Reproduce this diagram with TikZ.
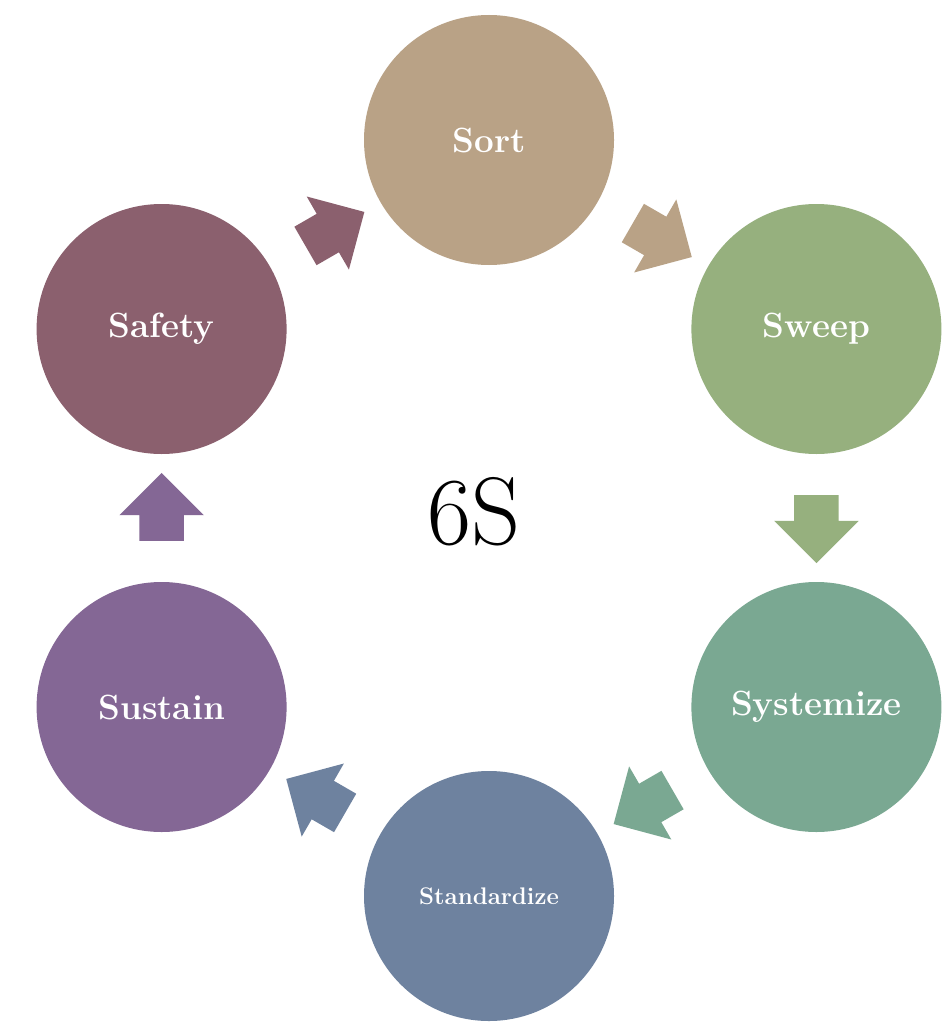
\documentclass[tikz,border=0pt]{standalone}
\usetikzlibrary{shapes.arrows,calc}
\definecolor{cA}{HTML}{B9A286}
\definecolor{cB}{HTML}{96B07E}
\definecolor{cC}{HTML}{7AA892}
\definecolor{cD}{HTML}{6E829F}
\definecolor{cE}{HTML}{846795}
\definecolor{cF}{HTML}{8B606E}
\begin{document}
\begin{tikzpicture}[x=1pt,y=-1pt,
  mod/.style={circle,minimum size=250pt,inner sep=0pt,text=white,font=\fontsize{35}{40}\selectfont\bfseries},
  arr/.style={single arrow,minimum height=68pt,minimum width=84pt,single arrow head extend=20pt,inner xsep=0pt,inner ysep=22pt,single arrow head indent=0pt}]
\useasboundingbox[fill=white] (0,0) rectangle (949,1027);
\coordinate (c) at (489,518);
\node[mod,fill=cA] (s1) at ($(c)+(0,-378)$) {Sort};
\node[mod,fill=cB] (s2) at ($(c)+(327.4,-189)$) {Sweep};
\node[mod,fill=cC] (s3) at ($(c)+(327.4,189)$) {Systemize};
\node[mod,fill=cD,font=\fontsize{24}{28}\selectfont\bfseries] (s4) at ($(c)+(0,378)$) {Standardize};
\node[mod,fill=cE] (s5) at ($(c)+(-327.4,189)$) {Sustain};
\node[mod,fill=cF] (s6) at ($(c)+(-327.4,-189)$) {Safety};
\node[arr,fill=cA,rotate=-30] (a1) at ($(c)+(163.7,-283.5)$) {};
\node[arr,fill=cB,rotate=-90] (a2) at ($(c)+(327.4,0)$) {};
\node[arr,fill=cC,rotate=-150] (a3) at ($(c)+(163.7,283.5)$) {};
\node[arr,fill=cD,rotate=150] (a4) at ($(c)+(-163.7,283.5)$) {};
\node[arr,fill=cE,rotate=90] (a5) at ($(c)+(-327.4,0)$) {};
\node[arr,fill=cF,rotate=30] (a6) at ($(c)+(-163.7,-283.5)$) {};
\node[font=\fontsize{96}{100}\selectfont] (t) at ($(c)+(-15,-6)$) {6S};
\end{tikzpicture}
\end{document}
